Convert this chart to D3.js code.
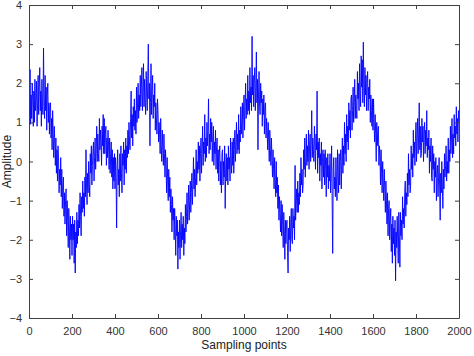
<!DOCTYPE html>
<html>
<head>
<meta charset="utf-8">
<script src="https://cdn.jsdelivr.net/npm/d3@7/dist/d3.min.js"></script>
<style>
  html, body { margin: 0; padding: 0; background: #fff; }
  svg { display: block; font-family: "Liberation Sans", Arial, sans-serif; }
</style>
</head>
<body>
<svg id="chart" width="474" height="356"></svg>
<script>
// ---- data (one value every 2.5 samples) ----
const sampleStep = 2.5;
const amplitude = [
  1.9,1.2,2.35,0.95,1.7,1.1,2.0,1.6,0.9,1.8,
  1.0,2.1,1.3,1.6,2.05,0.9,1.5,2.2,1.2,1.9,
  2.4,1.3,1.8,0.9,2.1,1.4,1.2,2.9,1.6,1.1,
  2.2,1.3,1.9,0.8,1.7,2.0,1.0,1.5,0.7,1.4,
  1.5,0.6,1.1,0.3,1.3,0.7,0.1,0.9,0.5,-0.1,
  0.6,-0.3,0.3,-0.5,0.4,0.0,-0.8,-0.2,-0.6,0.1,
  -0.9,-0.2,-1.2,-0.6,-0.4,-1.4,-0.8,-1.6,-1.0,-0.7,
  -1.9,-1.0,-1.5,-2.2,-1.2,-1.7,-2.5,-1.4,-2.0,-1.6,
  -2.4,-1.4,-2.0,-1.6,-2.6,-1.5,-2.85,-1.8,-2.2,-1.3,
  -2.1,-1.5,-1.9,-1.1,-1.7,-0.8,-1.4,-1.9,-0.9,-1.3,
  -0.5,-1.2,-0.8,-1.4,-0.4,-0.9,0.3,-0.6,-1.1,-0.3,
  -0.8,0.0,-0.5,-0.9,0.2,-0.3,0.4,-0.6,-0.1,0.3,
  0.5,-0.5,0.1,0.6,-0.2,0.3,0.9,0.0,0.7,0.2,
  0.0,1.1,0.3,0.8,0.5,-0.1,0.9,0.4,1.2,0.2,
  1.1,0.2,0.7,0.9,-0.1,0.6,0.1,0.8,0.4,-0.2,
  0.6,-0.3,0.2,0.5,-0.4,0.3,-0.7,0.1,-0.5,0.2,
  -0.7,0.1,-0.4,-1.7,-0.1,0.3,-0.6,-0.2,-0.9,0.2,
  -0.5,0.4,-0.3,-0.8,0.2,-0.1,0.5,-0.6,0.3,-0.2,
  0.6,-0.3,0.4,0.1,0.8,0.2,1.0,0.5,0.3,1.1,
  1.8,0.6,1.2,0.4,1.4,0.9,1.6,0.8,1.3,0.7,
  1.9,1.0,1.5,2.0,1.1,1.7,1.3,2.2,1.4,1.9,
  2.4,1.3,1.8,2.5,1.4,2.1,1.6,1.2,2.3,1.7,
  1.3,2.2,3.0,1.6,2.0,0.4,1.5,2.5,1.2,1.8,
  2.2,1.1,1.7,1.4,2.0,0.8,1.5,1.1,0.7,1.6,
  1.3,0.5,1.0,0.7,0.2,1.1,0.4,0.0,0.8,0.3,
  -0.1,0.7,0.2,-0.4,0.3,-0.1,-0.8,0.1,-0.5,-1.0,
  -0.2,-0.9,-0.4,-1.3,-0.7,-1.1,-1.8,-0.9,-1.5,-1.2,
  -2.0,-1.2,-1.7,-2.4,-1.4,-1.9,-1.5,-2.75,-1.8,-2.2,
  -1.5,-2.5,-1.8,-1.3,-2.2,-1.6,-2.0,-1.4,-2.4,-1.7,
  -2.1,-1.1,-1.8,-1.4,-0.8,-1.6,-1.2,-0.6,-1.5,-1.0,
  -0.5,-1.3,-0.8,-0.3,-1.1,-0.6,0.1,-0.7,-0.2,-0.9,
  -0.4,0.3,-0.6,0.0,-0.3,0.5,-0.2,0.4,-0.5,0.2,
  0.6,-0.3,0.3,0.9,-0.1,0.5,0.2,1.2,0.0,0.6,
  0.1,1.0,0.4,0.8,1.6,0.2,0.7,0.3,1.1,0.5,
  1.0,0.0,0.6,0.9,-0.1,0.5,0.2,0.8,-0.2,0.4,
  0.6,-0.3,0.3,-0.5,0.2,0.4,-0.6,0.0,-0.8,0.2,
  0.3,-0.6,0.0,-0.4,0.4,-1.2,-0.2,0.2,-0.5,0.1,
  -0.6,0.4,-0.2,0.1,-0.5,0.6,0.0,-0.3,0.5,-0.1,
  0.6,-0.3,0.3,0.8,0.0,0.5,1.0,0.2,0.7,0.3,
  1.2,0.2,0.8,0.5,1.4,0.7,1.0,1.5,0.6,1.3,
  1.7,0.8,1.4,2.0,1.1,1.6,1.2,2.2,1.3,1.8,
  1.2,2.4,1.5,1.9,1.3,3.2,1.7,2.2,1.4,2.0,
  2.4,1.3,1.9,2.8,1.5,2.1,0.3,1.7,2.3,1.4,
  1.2,2.0,1.5,1.8,0.9,1.6,1.2,1.7,0.7,1.4,
  1.5,0.6,1.1,0.8,0.3,1.0,0.5,0.0,0.8,0.3,
  -0.1,0.6,0.1,-0.4,0.3,-0.2,-0.7,0.1,-0.4,-0.9,
  0.0,-0.8,-0.4,-1.2,-0.6,-1.5,-0.9,-1.3,-1.8,-1.0,
  -1.9,-1.1,-1.6,-2.2,-1.3,-1.8,-2.5,-1.5,-2.1,-1.6,
  -1.5,-2.3,-2.85,-1.7,-2.0,-1.4,-2.3,-1.6,-1.2,-2.0,
  -2.1,-1.2,-1.7,-1.4,-2.0,-0.1,-1.5,-1.1,-0.7,-1.3,
  -0.5,-1.3,-0.8,-1.1,-0.3,-0.9,0.1,-0.6,-0.2,-0.8,
  -0.6,0.3,-0.2,0.6,-0.4,0.1,0.7,-0.1,0.4,0.0,
  0.8,-0.2,0.4,0.7,0.0,0.5,1.3,0.1,0.6,0.3,
  0.0,0.9,0.4,-0.2,0.7,0.3,1.8,-0.3,0.5,0.1,
  0.6,-0.5,0.2,-0.1,0.5,-0.7,0.1,0.3,-0.4,0.2,
  -0.6,0.3,-0.2,-0.9,0.1,-0.4,0.2,-0.7,-0.1,-0.5,
  0.2,-0.8,-0.3,0.4,-1.0,-2.35,-0.2,0.1,-0.7,-0.4,
  -0.9,0.1,-0.5,-1.0,0.3,-0.3,-0.8,0.2,-0.6,0.0,
  0.3,-0.7,0.0,0.6,-0.3,0.4,-0.1,1.0,0.2,0.7,
  0.0,1.2,0.5,0.9,0.3,1.5,0.8,1.3,0.6,1.6,
  1.7,0.8,1.3,1.9,1.0,1.5,2.1,1.1,1.7,1.3,
  1.1,2.3,1.6,2.0,1.3,2.5,1.8,1.4,2.7,1.9,
  2.6,1.5,3.05,1.9,1.4,2.4,1.7,2.2,1.3,2.0,
  2.3,1.3,1.9,1.6,2.1,1.0,1.7,1.3,0.9,1.6,
  0.8,1.6,1.0,0.5,1.2,0.7,0.0,1.0,0.4,0.8,
  0.9,-0.1,0.4,0.1,-0.6,0.3,-0.3,-0.8,0.0,-0.5,
  -1.0,-0.2,-0.7,-1.3,-0.5,-1.0,-1.6,-0.8,-1.9,-1.2,
  -1.0,-2.0,-1.5,-1.2,-2.3,-1.6,-2.6,-1.4,-2.1,-1.7,
  -2.4,-1.5,-3.05,-1.8,-2.2,-1.4,-2.0,-2.6,-1.3,-1.9,
  -2.7,-1.3,-1.9,-1.5,-2.0,-0.9,-1.6,-1.2,-1.7,-0.8,
  -0.5,-1.4,-0.8,-1.1,-0.3,-0.9,0.2,-0.6,-0.2,-0.8,
  -0.6,0.4,-0.2,0.2,-0.4,0.8,0.1,0.5,-0.1,0.6,
  1.0,0.0,0.6,1.1,0.2,0.7,1.5,0.3,0.9,0.1,
  0.2,1.1,0.5,0.9,0.0,0.7,1.0,0.2,0.8,0.4,
  1.3,0.1,0.6,0.3,0.8,-0.3,0.4,0.0,0.6,-0.4,
  -0.5,0.4,-0.2,0.2,-0.8,0.0,-0.4,0.1,-1.0,-0.3,
  -0.1,-0.9,-0.4,0.1,-0.7,-1.5,-0.3,-0.8,0.0,-0.6,
  -1.2,-0.2,-0.7,0.2,-0.4,-0.1,0.4,-0.5,0.0,-0.3,
  0.6,-0.3,0.3,0.0,0.9,0.2,0.6,1.1,0.1,0.7,
  0.2,1.2,0.6,0.9,0.4,1.4,0.7,1.1,0.5,1.3,
  1.0
];
const xTicks = [0, 200, 400, 600, 800, 1000, 1200, 1400, 1600, 1800, 2000];
const yTicks = [-4, -3, -2, -1, 0, 1, 2, 3, 4];
const xDomain = [0, 2000];
const yDomain = [-4, 4];
const xLabel = "Sampling points";
const yLabel = "Amplitude";

// ---- layout ----
const plot = { left: 29, right: 459, top: 5, bottom: 318 };
const svg = d3.select("#chart");
const x = d3.scaleLinear().domain(xDomain).range([plot.left, plot.right]);
const y = d3.scaleLinear().domain(yDomain).range([plot.bottom, plot.top]);

const points = amplitude.map((v, i) => ({ s: i * sampleStep, v }));

svg.append("clipPath").attr("id", "clip").append("rect")
  .attr("x", plot.left).attr("y", plot.top)
  .attr("width", plot.right - plot.left).attr("height", plot.bottom - plot.top);

// signal
svg.append("path")
  .datum(points)
  .attr("clip-path", "url(#clip)")
  .attr("fill", "none")
  .attr("stroke", "#0000ff")
  .attr("stroke-width", 0.9)
  .attr("stroke-linejoin", "miter")
  .attr("d", d3.line().x(d => x(d.s)).y(d => y(d.v)));

// axes (MATLAB-like box with inward ticks)
const axisColor = "#404040";
const fmt = d3.format("d");
function styleAxis(g) {
  g.selectAll("path.domain").attr("stroke", axisColor).attr("stroke-width", 1);
  g.selectAll(".tick line").attr("stroke", axisColor);
  g.selectAll(".tick text").attr("fill", "#333").attr("font-size", 11)
    .attr("font-family", "'Liberation Sans', Arial, sans-serif");
}

svg.append("g").attr("transform", `translate(0,${plot.bottom})`)
  .call(d3.axisBottom(x).tickValues(xTicks).tickFormat(fmt).tickSizeInner(-4).tickSizeOuter(0).tickPadding(9))
  .call(styleAxis);
svg.append("g").attr("transform", `translate(0,${plot.top})`)
  .call(d3.axisTop(x).tickValues(xTicks).tickSizeInner(-4).tickSizeOuter(0).tickFormat(""))
  .call(styleAxis);
svg.append("g").attr("transform", `translate(${plot.left},0)`)
  .call(d3.axisLeft(y).tickValues(yTicks).tickFormat(fmt).tickSizeInner(-4).tickSizeOuter(0).tickPadding(7))
  .call(styleAxis);
svg.append("g").attr("transform", `translate(${plot.right},0)`)
  .call(d3.axisRight(y).tickValues(yTicks).tickSizeInner(-4).tickSizeOuter(0).tickFormat(""))
  .call(styleAxis);

// axis titles
svg.append("text")
  .attr("x", (plot.left + plot.right) / 2).attr("y", 349)
  .attr("text-anchor", "middle").attr("font-size", 12).attr("fill", "#222")
  .text(xLabel);
svg.append("text")
  .attr("transform", `translate(11,${(plot.top + plot.bottom) / 2}) rotate(-90)`)
  .attr("text-anchor", "middle").attr("font-size", 12).attr("fill", "#222")
  .text(yLabel);
</script>
</body>
</html>
